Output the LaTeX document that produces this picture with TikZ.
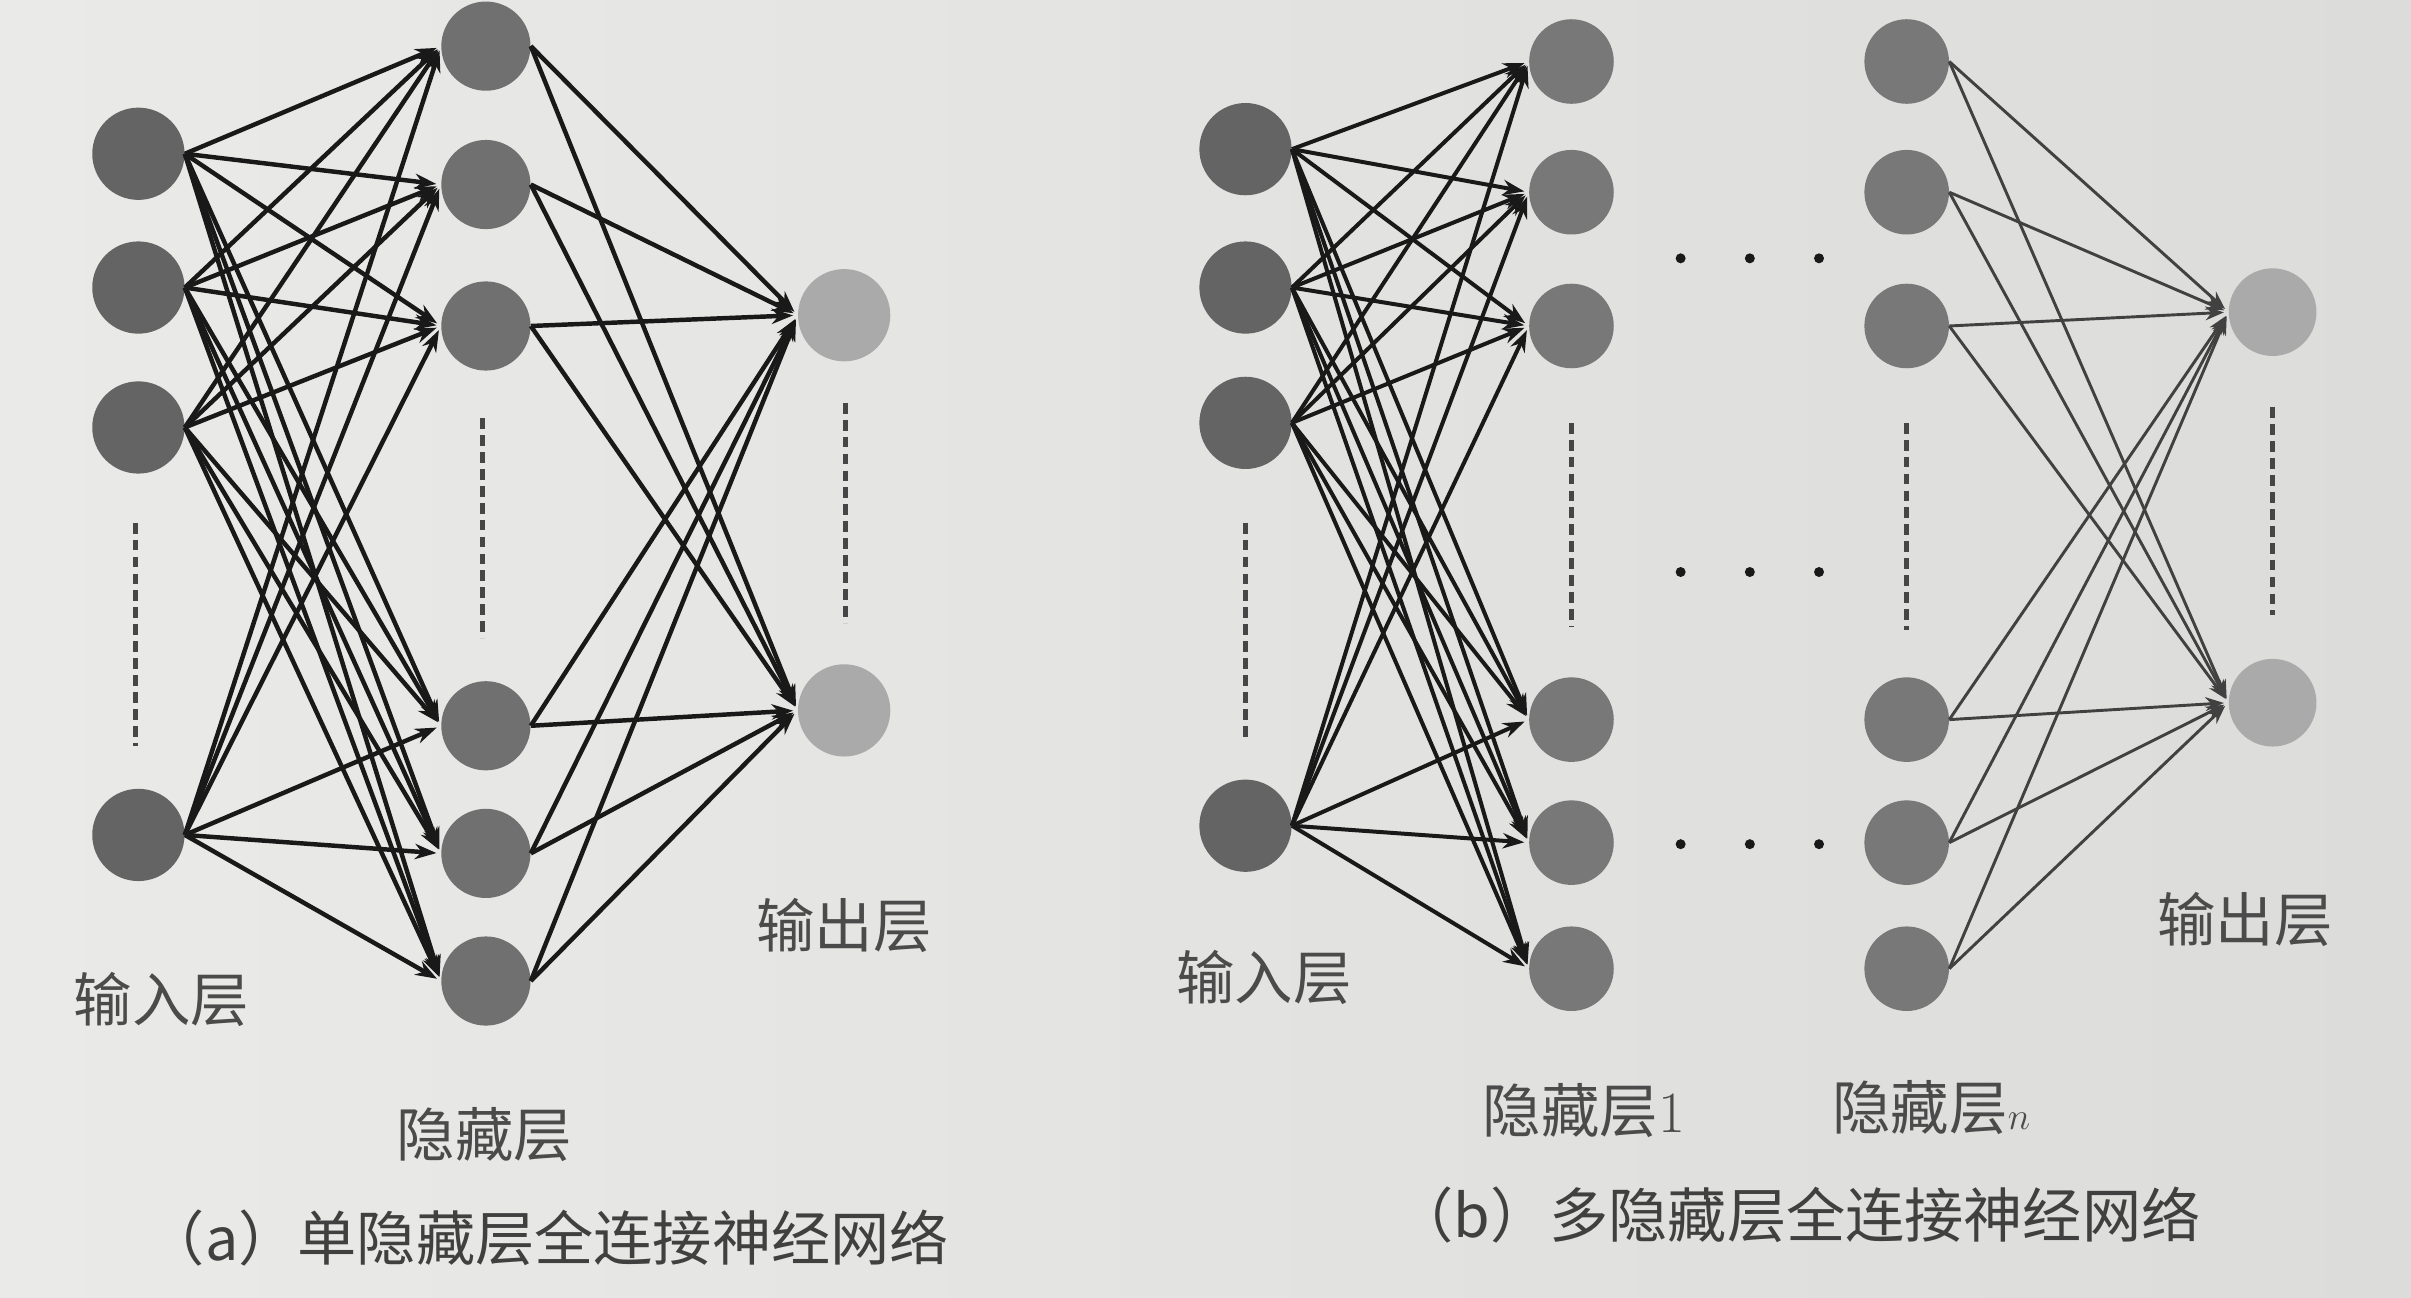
\documentclass[tikz,border=0pt]{standalone}
\usepackage{fontspec}
\newfontfamily\cjk{Noto Sans CJK SC}
\usetikzlibrary{arrows.meta}
\definecolor{paperL}{RGB}{234,234,232}
\definecolor{paperR}{RGB}{220,220,218}
\definecolor{nin}{RGB}{100,100,100}
\definecolor{nhid}{RGB}{112,112,112}
\definecolor{nhidn}{RGB}{120,120,120}
\definecolor{nout}{RGB}{170,170,170}
\definecolor{ink}{RGB}{25,25,25}
\definecolor{inkb}{RGB}{65,65,65}
\definecolor{txt}{RGB}{75,75,75}
\definecolor{dashc}{RGB}{70,70,70}
\tikzset{
  neuron/.style={circle,inner sep=0pt,minimum size=#1},
  neuron/.default=58pt,
  inN/.style={neuron=60pt,fill=nin},
  hidN/.style={neuron=58pt,fill=nhid},
  hidNb/.style={neuron=55pt,fill=nhidn},
  outN/.style={neuron=60pt,fill=nout},
  edgeA/.style={draw=ink,line width=2.9pt,-{Stealth[length=14pt,width=10pt]},shorten >=3pt},
  edgeB/.style={draw=inkb,line width=1.9pt,-{Stealth[length=12pt,width=9pt]},shorten >=3pt},
  dashline/.style={draw=dashc,line width=3.2pt,dash pattern=on 7pt off 4pt},
  lbl/.style={font=\cjk\fontsize{38}{42}\selectfont,text=txt,inner sep=0pt},
  captext/.style={font=\cjk\fontsize{38.5}{42}\selectfont,text=txt!85!black,inner sep=0pt},
  dotn/.style={circle,fill=ink,inner sep=0pt,minimum size=6.5pt}
}
\begin{document}
\begin{tikzpicture}[x=1pt,y=-1pt]
\shade[left color=paperL,right color=paperR] (0,0) rectangle (1568,844);
\useasboundingbox (0,0) rectangle (1568,844);

% ---------- (a) ----------
\foreach \i/\y in {1/100,2/187,3/278,4/543}
  \node[inN] (ai\i) at (90,\y) {};
\foreach \j/\y in {1/30,2/120,3/212,4/472,5/555,6/638}
  \node[hidN] (ah\j) at (316,\y) {};
\foreach \k/\y in {1/205,2/462}
  \node[outN] (ao\k) at (549,\y) {};
\foreach \i in {1,...,4}
  \foreach \j in {1,...,6}
    \draw[edgeA] (ai\i.east) -- (ah\j.west);
\foreach \j in {1,...,6}
  \foreach \k in {1,2}
    \draw[edgeA] (ah\j.east) -- (ao\k.west);
\coordinate (ad1a) at (88,340); \coordinate (ad1b) at (88,485);
\coordinate (ad2a) at (314,272); \coordinate (ad2b) at (314,415);
\coordinate (ad3a) at (550,262); \coordinate (ad3b) at (550,405);
\draw[dashline] (ad1a) -- (ad1b);
\draw[dashline] (ad2a) -- (ad2b);
\draw[dashline] (ad3a) -- (ad3b);
\node[lbl] (la1) at (105,650) {输入层};
\node[lbl] (la2) at (315,738) {隐藏层};
\node[lbl] (la3) at (549,602) {输出层};
\node[captext] (capa) at (356,805) {（a）单隐藏层全连接神经网络};

% ---------- (b) ----------
\foreach \i/\y in {1/97,2/187,3/275,4/537}
  \node[inN] (bi\i) at (810,\y) {};
\foreach \j/\y in {1/40,2/125,3/212,4/468,5/548,6/630}
  \node[hidNb] (bh\j) at (1022,\y) {};
\foreach \j/\y in {1/40,2/125,3/212,4/468,5/548,6/630}
  \node[hidNb] (bn\j) at (1240,\y) {};
\foreach \k/\y in {1/203,2/457}
  \node[outN,neuron=57pt] (bo\k) at (1478,\y) {};
\foreach \i in {1,...,4}
  \foreach \j in {1,...,6}
    \draw[edgeA,line width=2.6pt] (bi\i.east) -- (bh\j.west);
\foreach \j in {1,...,6}
  \foreach \k in {1,2}
    \draw[edgeB] (bn\j.east) -- (bo\k.west);
\coordinate (bd1a) at (810,340); \coordinate (bd1b) at (810,480);
\coordinate (bd2a) at (1022,275); \coordinate (bd2b) at (1022,408);
\coordinate (bd3a) at (1240,275); \coordinate (bd3b) at (1240,410);
\coordinate (bd4a) at (1478,265); \coordinate (bd4b) at (1478,400);
\draw[dashline] (bd1a) -- (bd1b);
\draw[dashline] (bd2a) -- (bd2b);
\draw[dashline] (bd3a) -- (bd3b);
\draw[dashline] (bd4a) -- (bd4b);
\foreach \r/\y in {1/168,2/372,3/549}
  \foreach \c/\x in {1/1093,2/1138,3/1183}
    \node[dotn] (dot\r\c) at (\x,\y) {};
\node[lbl] (lb1) at (822,636) {输入层};
\node[lbl] (lb2) at (1030,722) {隐藏层\rmfamily 1};
\node[lbl] (lb3) at (1256,720) {隐藏层$n$};
\node[lbl] (lb4) at (1460,598) {输出层};
\node[captext] (capb) at (1169,790) {（b）多隐藏层全连接神经网络};
\end{tikzpicture}
\end{document}
